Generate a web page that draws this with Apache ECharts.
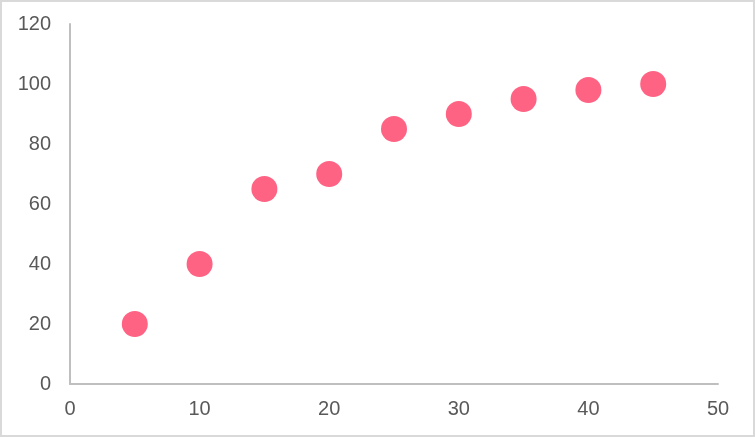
<!DOCTYPE html>
<html>
<head>
<meta charset="utf-8">
<script src="https://cdn.jsdelivr.net/npm/echarts@6/dist/echarts.min.js"></script>
<style>
  html, body { margin: 0; padding: 0; background: #fff; }
  #main { width: 755px; height: 437px; box-sizing: border-box; border: 2px solid #d9d9d9; }
</style>
</head>
<body>
<div id="main"></div>
<script>
// values
var xValues = [5, 10, 15, 20, 25, 30, 35, 40, 45];
var yValues = [20, 40, 65, 70, 85, 90, 95, 98, 100];

var points = xValues.map(function (x, i) { return [x, yValues[i]]; });

var myChart = echarts.init(document.getElementById('main'));
var labelStyle = { color: '#595959', fontSize: 20, fontFamily: 'Liberation Sans, Arial, sans-serif' };
var option = {
  animation: false,
  grid: { left: 68, right: 35, top: 22, bottom: 51 },
  xAxis: {
    type: 'value', min: 0, max: 50, interval: 10,
    axisLine: { lineStyle: { color: '#bfbfbf', width: 2 } },
    axisTick: { show: false },
    splitLine: { show: false },
    axisLabel: Object.assign({ margin: 15 }, labelStyle)
  },
  yAxis: {
    type: 'value', min: 0, max: 120, interval: 20,
    axisLine: { show: true, lineStyle: { color: '#bfbfbf', width: 2 } },
    axisTick: { show: false },
    splitLine: { show: false },
    axisLabel: Object.assign({ margin: 19 }, labelStyle)
  },
  series: [{
    type: 'scatter',
    data: points,
    symbolSize: 26,
    itemStyle: { color: '#ff6384', opacity: 1 }
  }]
};
option && myChart.setOption(option);
</script>
</body>
</html>
